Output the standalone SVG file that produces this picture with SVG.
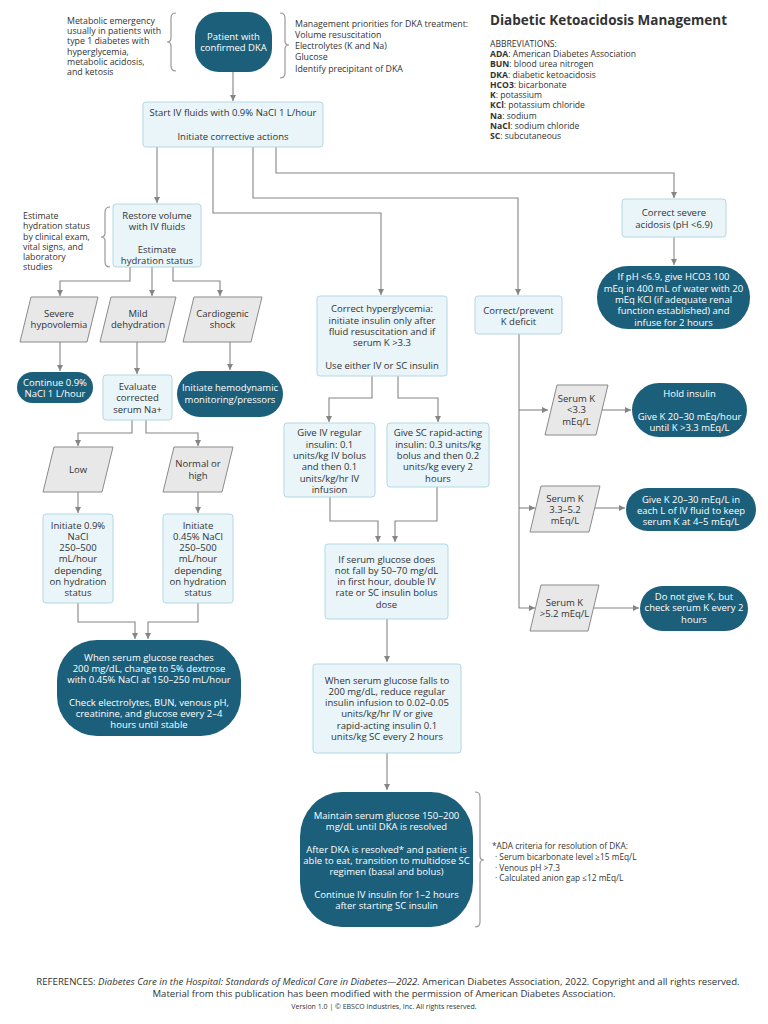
<svg xmlns="http://www.w3.org/2000/svg" width="768" height="1024" viewBox="0 0 768 1024">
<style>
text{font-family:"Open Sans","DejaVu Sans",sans-serif;fill:#333;}
.c{text-anchor:middle;font-size:9.5px;}
.w{fill:#fff;}
.a{font-size:8.8px;}
.ab{font-size:8.6px;}
.fn{font-size:8.3px;}
.teal{fill:#1c5f7a;stroke:none;}
.box{fill:#e9f5f9;stroke:#b3d8e4;stroke-width:1;}
.par{fill:#e8e8e8;stroke:#8a8a8a;stroke-width:1;stroke-linejoin:round;}
.brace{fill:none;stroke:#999;stroke-width:1.2;}
#connectors path{fill:none;stroke:#858585;stroke-width:1.1;marker-end:url(#ah);}
</style>
<defs>
<marker id="ah" markerUnits="userSpaceOnUse" markerWidth="7" markerHeight="7" refX="6" refY="3.5" orient="auto">
<path d="M0,0.5 L6,3.5 L0,6.5 Z" fill="#858585"/>
</marker>
</defs>
<rect width="768" height="1024" fill="#fff"/>

<!-- Title and abbreviations -->
<text x="490" y="25" style="font-size:13.5px;font-weight:bold;fill:#333">Diabetic Ketoacidosis Management</text>
<g id="abbreviations">
<text x="490" y="47" class="ab">ABBREVIATIONS:</text>
<text x="490" y="57" class="ab"><tspan font-weight="bold">ADA</tspan>: American Diabetes Association</text>
<text x="490" y="67" class="ab"><tspan font-weight="bold">BUN</tspan>: blood urea nitrogen</text>
<text x="490" y="78" class="ab"><tspan font-weight="bold">DKA</tspan>: diabetic ketoacidosis</text>
<text x="490" y="88" class="ab"><tspan font-weight="bold">HCO3</tspan>: bicarbonate</text>
<text x="490" y="98" class="ab"><tspan font-weight="bold">K</tspan>: potassium</text>
<text x="490" y="108" class="ab"><tspan font-weight="bold">KCl</tspan>: potassium chloride</text>
<text x="490" y="119" class="ab"><tspan font-weight="bold">Na</tspan>: sodium</text>
<text x="490" y="129" class="ab"><tspan font-weight="bold">NaCl</tspan>: sodium chloride</text>
<text x="490" y="139" class="ab"><tspan font-weight="bold">SC</tspan>: subcutaneous</text>
</g>

<!-- Annotations -->
<g id="note-metabolic">
<text x="67" y="24" class="a">Metabolic emergency</text>
<text x="67" y="34" class="a">usually in patients with</text>
<text x="67" y="44" class="a">type 1 diabetes with</text>
<text x="67" y="55" class="a">hyperglycemia,</text>
<text x="67" y="65" class="a">metabolic acidosis,</text>
<text x="67" y="75" class="a">and ketosis</text>
<path class="brace" d="M176,13 Q171,13 171,18 V38 Q171,42 167,42 Q171,42 171,46 V66 Q171,71 176,71"/>
</g>
<g id="note-priorities">
<path class="brace" d="M280,13 Q285,13 285,18 V41 Q285,45 289,45 Q285,45 285,49 V73 Q285,78 280,78"/>
<text x="295" y="27" class="a">Management priorities for DKA treatment:</text>
<text x="295" y="38" class="a">Volume resuscitation</text>
<text x="295" y="49" class="a">Electrolytes (K and Na)</text>
<text x="295" y="60" class="a">Glucose</text>
<text x="295" y="72" class="a">Identify precipitant of DKA</text>
</g>
<g id="note-hydration">
<text x="23" y="219" class="a">Estimate</text>
<text x="23" y="229" class="a">hydration status</text>
<text x="23" y="240" class="a">by clinical exam,</text>
<text x="23" y="250" class="a">vital signs, and</text>
<text x="23" y="260" class="a">laboratory</text>
<text x="23" y="270" class="a">studies</text>
<path class="brace" d="M110,207 Q105,207 105,212 V233 Q105,237 101,237 Q105,237 105,241 V262 Q105,267 110,267"/>
</g>
<g id="note-ada">
<path class="brace" d="M475,792 Q480,792 480,797 V856 Q480,860 484,860 Q480,860 480,864 V922 Q480,927 475,927"/>
<text x="492" y="849" class="fn">*ADA criteria for resolution of DKA:</text>
<text x="495" y="860" class="fn">· Serum bicarbonate level  ≥15 mEq/L</text>
<text x="495" y="871" class="fn">· Venous pH &gt;7.3</text>
<text x="495" y="881" class="fn">· Calculated anion gap ≤12 mEq/L</text>
</g>

<!-- Connectors -->
<g id="connectors">
<path d="M233,72 V101"/>
<path d="M157,147 V203"/>
<path d="M213,147 V213 H381 V295"/>
<path d="M253,147 V198 H518 V295"/>
<path d="M276,147 V173 H674 V198"/>
<path d="M674,237 V265"/>
<path d="M130,267 V281 H60 V296"/>
<path d="M152,267 V296"/>
<path d="M173,267 V281 H220 V296"/>
<path d="M60,342 V371"/>
<path d="M137,342 V374"/>
<path d="M230,342 V370"/>
<path d="M132,420 V433 H78 V446"/>
<path d="M146,420 V433 H198 V446"/>
<path d="M78,492 V513"/>
<path d="M198,492 V513"/>
<path d="M78,603 V622 H135 V639"/>
<path d="M198,603 V622 H148 V639"/>
<path d="M372,376 V398 H329 V422"/>
<path d="M398,376 V398 H438 V422"/>
<path d="M330,497 V521 H378 V542"/>
<path d="M437,487 V521 H395 V542"/>
<path d="M387,619 V662"/>
<path d="M387,753 V790"/>
<path d="M519,334 V608 H535"/>
<path d="M519,410 H548"/>
<path d="M519,508 H535"/>
<path d="M602,410 H631"/>
<path d="M595,508 H625"/>
<path d="M594,608 H639"/>
</g>

<!-- Nodes -->
<g id="patient">
<rect class="teal" x="195" y="12" width="77" height="60" rx="24" ry="24"/>
<text class="c w" x="233.5" y="40">Patient with</text>
<text class="c w" x="233.5" y="51">confirmed DKA</text>
</g>
<g id="start-iv">
<rect class="box" x="143" y="102" width="180" height="45" rx="3"/>
<text class="c" x="233" y="116">Start IV fluids with 0.9% NaCl 1 L/hour</text>
<text class="c" x="233" y="140">Initiate corrective actions</text>
</g>
<g id="restore">
<rect class="box" x="113" y="204" width="88" height="63" rx="3"/>
<text class="c" x="157" y="219">Restore volume</text>
<text class="c" x="157" y="230">with IV fluids</text>
<text class="c" x="157" y="253">Estimate</text>
<text class="c" x="157" y="264">hydration status</text>
</g>
<g id="severe">
<path class="par" d="M31,297 H98 L87,342 H20 Z"/>
<text class="c" x="59" y="317">Severe</text>
<text class="c" x="59" y="328">hypovolemia</text>
</g>
<g id="mild">
<path class="par" d="M111,297 H176 L165,342 H100 Z"/>
<text class="c" x="138" y="317">Mild</text>
<text class="c" x="138" y="328">dehydration</text>
</g>
<g id="cardio">
<path class="par" d="M194,297 H262 L251,342 H183 Z"/>
<text class="c" x="222.5" y="317">Cardiogenic</text>
<text class="c" x="222.5" y="328">shock</text>
</g>
<g id="continue">
<rect class="teal" x="17" y="372" width="76" height="31" rx="15.5"/>
<text class="c w" x="55" y="386">Continue 0.9%</text>
<text class="c w" x="55" y="397">NaCl 1 L/hour</text>
</g>
<g id="evaluate">
<rect class="box" x="103" y="375" width="69" height="45" rx="3"/>
<text class="c" x="137.5" y="390">Evaluate</text>
<text class="c" x="137.5" y="401">corrected</text>
<text class="c" x="137.5" y="413">serum Na+</text>
</g>
<g id="hemodynamic">
<rect class="teal" x="177" y="371" width="106" height="46" rx="23"/>
<text class="c w" x="230" y="391">Initiate hemodynamic</text>
<text class="c w" x="230" y="403">monitoring/pressors</text>
</g>
<g id="low">
<path class="par" d="M54,447 H113 L102,492 H43 Z"/>
<text class="c" x="78" y="473">Low</text>
</g>
<g id="normal">
<path class="par" d="M174,447 H233 L222,492 H163 Z"/>
<text class="c" x="198" y="467">Normal or</text>
<text class="c" x="198" y="479">high</text>
</g>
<g id="init09">
<rect class="box" x="43" y="514" width="70" height="89" rx="3"/>
<text class="c" x="78" y="529">Initiate 0.9%</text>
<text class="c" x="78" y="540">NaCl</text>
<text class="c" x="78" y="551">250–500</text>
<text class="c" x="78" y="562">mL/hour</text>
<text class="c" x="78" y="574">depending</text>
<text class="c" x="78" y="585">on hydration</text>
<text class="c" x="78" y="596">status</text>
</g>
<g id="init045">
<rect class="box" x="163" y="514" width="70" height="89" rx="3"/>
<text class="c" x="198" y="529">Initiate</text>
<text class="c" x="198" y="540">0.45% NaCl</text>
<text class="c" x="198" y="551">250–500</text>
<text class="c" x="198" y="562">mL/hour</text>
<text class="c" x="198" y="574">depending</text>
<text class="c" x="198" y="585">on hydration</text>
<text class="c" x="198" y="596">status</text>
</g>
<g id="dextrose">
<rect class="teal" x="57" y="640" width="184" height="96" rx="40" ry="40"/>
<text class="c w" x="149" y="661">When serum glucose reaches</text>
<text class="c w" x="149" y="672">200 mg/dL, change to 5% dextrose</text>
<text class="c w" x="149" y="683">with 0.45% NaCl at 150–250 mL/hour</text>
<text class="c w" x="149" y="706">Check electrolytes, BUN, venous pH,</text>
<text class="c w" x="149" y="717">creatinine, and glucose every 2–4</text>
<text class="c w" x="149" y="728">hours until stable</text>
</g>
<g id="hyperglycemia">
<rect class="box" x="317" y="296" width="130" height="80" rx="3"/>
<text class="c" x="382" y="312">Correct hyperglycemia:</text>
<text class="c" x="382" y="324">initiate insulin only after</text>
<text class="c" x="382" y="335">fluid resuscitation and if</text>
<text class="c" x="382" y="346">serum K &gt;3.3</text>
<text class="c" x="382" y="369">Use either IV or SC insulin</text>
</g>
<g id="iv-insulin">
<rect class="box" x="284" y="423" width="91" height="74" rx="3"/>
<text class="c" x="329.5" y="436">Give IV regular</text>
<text class="c" x="329.5" y="448">insulin: 0.1</text>
<text class="c" x="329.5" y="459">units/kg IV bolus</text>
<text class="c" x="329.5" y="470">and then 0.1</text>
<text class="c" x="329.5" y="482">units/kg/hr IV</text>
<text class="c" x="329.5" y="493">infusion</text>
</g>
<g id="sc-insulin">
<rect class="box" x="387" y="423" width="102" height="64" rx="3"/>
<text class="c" x="438" y="436">Give SC rapid-acting</text>
<text class="c" x="438" y="448">insulin: 0.3 units/kg</text>
<text class="c" x="438" y="459">bolus and then 0.2</text>
<text class="c" x="438" y="470">units/kg every 2</text>
<text class="c" x="438" y="482">hours</text>
</g>
<g id="double">
<rect class="box" x="325" y="544" width="123" height="75" rx="3"/>
<text class="c" x="386.5" y="563">If serum glucose does</text>
<text class="c" x="386.5" y="574">not fall by 50–70 mg/dL</text>
<text class="c" x="386.5" y="585">in first hour, double IV</text>
<text class="c" x="386.5" y="596">rate or SC insulin bolus</text>
<text class="c" x="386.5" y="608">dose</text>
</g>
<g id="reduce">
<rect class="box" x="313" y="664" width="148" height="89" rx="3"/>
<text class="c" x="387" y="684">When serum glucose falls to</text>
<text class="c" x="387" y="695">200 mg/dL, reduce regular</text>
<text class="c" x="387" y="706">insulin infusion to 0.02–0.05</text>
<text class="c" x="387" y="717">units/kg/hr IV or give</text>
<text class="c" x="387" y="729">rapid-acting insulin 0.1</text>
<text class="c" x="387" y="740">units/kg SC every 2 hours</text>
</g>
<g id="maintain">
<rect class="teal" x="300" y="792" width="173" height="135" rx="42" ry="45"/>
<text class="c w" x="386.5" y="819">Maintain serum glucose 150–200</text>
<text class="c w" x="386.5" y="830">mg/dL until DKA is resolved</text>
<text class="c w" x="386.5" y="853">After DKA is resolved* and patient is</text>
<text class="c w" x="386.5" y="864">able to eat, transition to multidose SC</text>
<text class="c w" x="386.5" y="875">regimen (basal and bolus)</text>
<text class="c w" x="386.5" y="898">Continue IV insulin for 1–2 hours</text>
<text class="c w" x="386.5" y="909">after starting SC insulin</text>
</g>
<g id="acidosis">
<rect class="box" x="622" y="199" width="104" height="38" rx="3"/>
<text class="c" x="674" y="216">Correct severe</text>
<text class="c" x="674" y="228">acidosis (pH &lt;6.9)</text>
</g>
<g id="hco3">
<rect class="teal" x="597" y="266" width="153" height="63" rx="31"/>
<text class="c w" x="673.5" y="280">If pH &lt;6.9, give HCO3 100</text>
<text class="c w" x="673.5" y="292">mEq in 400 mL of water with 20</text>
<text class="c w" x="673.5" y="303">mEq KCl (if adequate renal</text>
<text class="c w" x="673.5" y="314">function established) and</text>
<text class="c w" x="673.5" y="326">infuse for 2 hours</text>
</g>
<g id="k-deficit">
<rect class="box" x="475" y="296" width="87" height="38" rx="3"/>
<text class="c" x="518.5" y="314">Correct/prevent</text>
<text class="c" x="518.5" y="325">K deficit</text>
</g>
<g id="k-low">
<path class="par" d="M557,385 H608 L596,435 H545 Z"/>
<text class="c" x="576.5" y="402">Serum K</text>
<text class="c" x="576.5" y="413">&lt;3.3</text>
<text class="c" x="576.5" y="425">mEq/L</text>
</g>
<g id="hold">
<rect class="teal" x="632" y="383" width="115" height="54" rx="27"/>
<text class="c w" x="689.5" y="397">Hold insulin</text>
<text class="c w" x="689.5" y="420">Give K 20–30 mEq/hour</text>
<text class="c w" x="689.5" y="431">until K &gt;3.3 mEq/L</text>
</g>
<g id="k-mid">
<path class="par" d="M541,486 H600 L589,532 H530 Z"/>
<text class="c" x="565" y="502">Serum K</text>
<text class="c" x="565" y="513">3.3–5.2</text>
<text class="c" x="565" y="524">mEq/L</text>
</g>
<g id="give-k">
<rect class="teal" x="626" y="488" width="130" height="43" rx="21.5"/>
<text class="c w" x="691" y="503">Give K 20–30 mEq/L in</text>
<text class="c w" x="691" y="514">each L of IV fluid to keep</text>
<text class="c w" x="691" y="525">serum K at 4–5 mEq/L</text>
</g>
<g id="k-high">
<path class="par" d="M541,585 H599 L588,631 H530 Z"/>
<text class="c" x="564.5" y="606">Serum K</text>
<text class="c" x="564.5" y="617">&gt;5.2 mEq/L</text>
</g>
<g id="no-k">
<rect class="teal" x="640" y="586" width="108" height="45" rx="22.5"/>
<text class="c w" x="694" y="600">Do not give K, but</text>
<text class="c w" x="694" y="611">check serum K every 2</text>
<text class="c w" x="694" y="623">hours</text>
</g>

<!-- References -->
<text x="388" y="985" text-anchor="middle" style="font-size:9.6px">REFERENCES:  <tspan font-style="italic">Diabetes Care in the Hospital: Standards of Medical Care in Diabetes—2022.</tspan> American Diabetes Association, 2022. Copyright and all rights reserved.</text>
<text x="384" y="997" text-anchor="middle" style="font-size:9.6px">Material from this publication has been modified with the permission of American Diabetes Association.</text>
<text x="384" y="1009" text-anchor="middle" style="font-size:7px">Version 1.0  |  © EBSCO Industries, Inc. All rights reserved.</text>
</svg>
